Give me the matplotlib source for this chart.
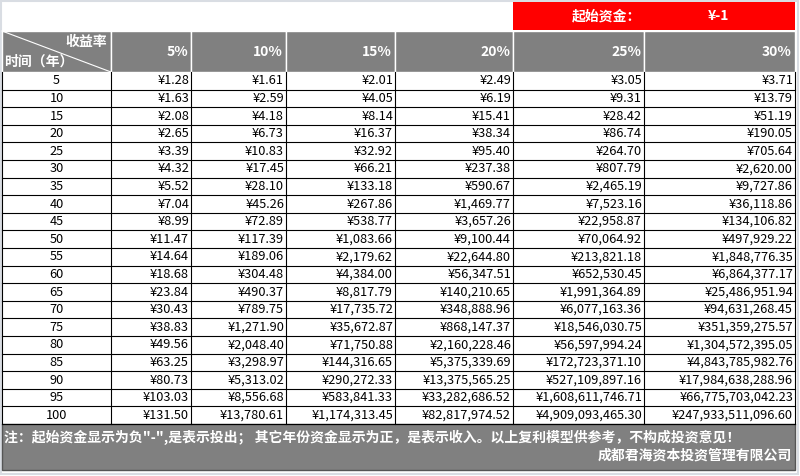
import matplotlib
matplotlib.use("Agg")
import matplotlib.pyplot as plt
from matplotlib.patches import Rectangle

plt.rcParams['font.family'] = ['Noto Sans CJK SC', 'DejaVu Sans']

years = [5,10,15,20,25,30,35,40,45,50,55,60,65,70,75,80,85,90,95,100]
rates = ["5%","10%","15%","20%","25%","30%"]
r5 = ["¥1.28","¥1.63","¥2.08","¥2.65","¥3.39","¥4.32","¥5.52","¥7.04","¥8.99","¥11.47","¥14.64","¥18.68","¥23.84","¥30.43","¥38.83","¥49.56","¥63.25","¥80.73","¥103.03","¥131.50"]
r10 = ["¥1.61","¥2.59","¥4.18","¥6.73","¥10.83","¥17.45","¥28.10","¥45.26","¥72.89","¥117.39","¥189.06","¥304.48","¥490.37","¥789.75","¥1,271.90","¥2,048.40","¥3,298.97","¥5,313.02","¥8,556.68","¥13,780.61"]
r15 = ["¥2.01","¥4.05","¥8.14","¥16.37","¥32.92","¥66.21","¥133.18","¥267.86","¥538.77","¥1,083.66","¥2,179.62","¥4,384.00","¥8,817.79","¥17,735.72","¥35,672.87","¥71,750.88","¥144,316.65","¥290,272.33","¥583,841.33","¥1,174,313.45"]
r20 = ["¥2.49","¥6.19","¥15.41","¥38.34","¥95.40","¥237.38","¥590.67","¥1,469.77","¥3,657.26","¥9,100.44","¥22,644.80","¥56,347.51","¥140,210.65","¥348,888.96","¥868,147.37","¥2,160,228.46","¥5,375,339.69","¥13,375,565.25","¥33,282,686.52","¥82,817,974.52"]
r25 = ["¥3.05","¥9.31","¥28.42","¥86.74","¥264.70","¥807.79","¥2,465.19","¥7,523.16","¥22,958.87","¥70,064.92","¥213,821.18","¥652,530.45","¥1,991,364.89","¥6,077,163.36","¥18,546,030.75","¥56,597,994.24","¥172,723,371.10","¥527,109,897.16","¥1,608,611,746.71","¥4,909,093,465.30"]
r30 = ["¥3.71","¥13.79","¥51.19","¥190.05","¥705.64","¥2,620.00","¥9,727.86","¥36,118.86","¥134,106.82","¥497,929.22","¥1,848,776.35","¥6,864,377.17","¥25,486,951.94","¥94,631,268.45","¥351,359,275.57","¥1,304,572,395.05","¥4,843,785,982.76","¥17,984,638,288.96","¥66,775,703,042.23","¥247,933,511,096.60"]
columns = [r5, r10, r15, r20, r25, r30]

fig = plt.figure(figsize=(8, 4.76), dpi=100)
ax = fig.add_axes([0, 0, 1, 1])
ax.set_xlim(0, 800); ax.set_ylim(476, 0); ax.axis('off')

xs = [2, 111, 191, 286, 395, 513, 644, 795]
hy0, hy1 = 31, 72
row_h = (424 - 72) / len(years)
gray = '#808080'
fs = 9.2
bfs = 10

ax.add_patch(Rectangle((1, 1), 797, 473, fill=False, ec='#d9dde3', lw=1.5))
ax.add_patch(Rectangle((513, 2), 282, 28, fc='#ff0000', ec='none'))
ax.text(606, 16, "起始资金：", color='white', fontweight='bold', fontsize=bfs, ha='center', va='center')
ax.text(718, 16, "¥-1", color='white', fontweight='bold', fontsize=bfs, ha='center', va='center')
for i in range(7):
    ax.add_patch(Rectangle((xs[i], hy0), xs[i+1]-xs[i], hy1-hy0, fc=gray, ec='white', lw=1))
ax.plot([xs[0], xs[1]], [hy0, hy1], color='white', lw=0.8)
ax.text(107, 42, "收益率", color='white', fontweight='bold', fontsize=bfs, ha='right', va='center')
ax.text(4, 62, "时间（年）", color='white', fontweight='bold', fontsize=bfs, ha='left', va='center')
for i, r in enumerate(rates):
    ax.text(xs[i+2]-3, 52, r, color='white', fontweight='bold', fontsize=bfs, ha='right', va='center')
for j, y in enumerate(years):
    y0 = hy1 + j*row_h
    yc = y0 + row_h/2
    ax.plot([xs[0], xs[-1]], [y0+row_h, y0+row_h], color='black', lw=0.8)
    ax.text((xs[0]+xs[1])/2, yc, str(y), fontsize=fs, ha='center', va='center', color='black')
    for i, col in enumerate(columns):
        ax.text(xs[i+2]-2, yc, col[j], fontsize=fs, ha='right', va='center', color='black')
for x in xs:
    ax.plot([x, x], [hy1, 424], color='black', lw=0.8)
ax.add_patch(Rectangle((2, 424), 793, 46, fc=gray, ec='#555555', lw=1))
ax.text(4, 437, '注：起始资金显示为负"-",是表示投出； 其它年份资金显示为正，是表示收入。以上复利模型供参考，不构成投资意见！',
        color='white', fontweight='bold', fontsize=bfs, ha='left', va='center')
ax.text(792, 456, "成都君海资本投资管理有限公司", color='white', fontweight='bold', fontsize=bfs, ha='right', va='center')

fig.savefig("out.png", dpi=100)
